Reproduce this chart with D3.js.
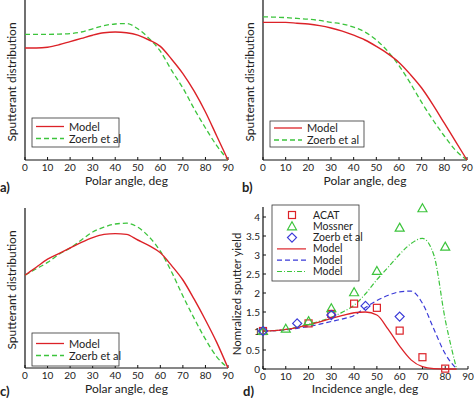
<!DOCTYPE html>
<html>
<head>
<meta charset="UTF-8">
<style>
  body { margin: 0; background: #fff; }
  text { font-family: Lato, "Open Sans", sans-serif; fill: #222; }
</style>
</head>
<body>
<script src="https://d3js.org/d3.v7.min.js"></script>
<script>

// polar angle grid for panels a-c
var polarAngles = [0,5,10,15,20,25,30,35,40,45,50,55,60,65,70,75,80,85,90];

var modelA = [0.70,0.70,0.705,0.72,0.74,0.76,0.78,0.795,0.80,0.795,0.78,0.75,0.71,0.63,0.54,0.43,0.30,0.15,0];
var zoerbA = [0.785,0.785,0.785,0.787,0.79,0.80,0.82,0.84,0.85,0.853,0.82,0.76,0.68,0.56,0.45,0.32,0.20,0.09,0];

var modelB = [0.86,0.86,0.86,0.855,0.85,0.84,0.825,0.805,0.78,0.75,0.71,0.665,0.61,0.535,0.45,0.345,0.23,0.115,0];
var zoerbB = [0.895,0.893,0.89,0.885,0.88,0.872,0.86,0.85,0.83,0.80,0.75,0.68,0.59,0.48,0.36,0.25,0.15,0.06,0];

var modelC = [0.58,0.63,0.68,0.715,0.75,0.785,0.815,0.835,0.84,0.835,0.80,0.765,0.72,0.64,0.55,0.43,0.30,0.16,0];
var zoerbC = [0.58,0.62,0.66,0.71,0.75,0.80,0.85,0.88,0.90,0.905,0.88,0.82,0.73,0.60,0.45,0.31,0.18,0.07,0];

// panel d: incidence angle
var incAngles = [0,5,10,15,20,25,30,35,40,45,50,55,60,65,70,75,80,85];
var modelRed   = [1,1.01,1.04,1.09,1.16,1.24,1.33,1.41,1.48,1.50,1.42,1.04,0.60,0.24,0.06,0.01,0,0];
var modelBlue  = [1,1.01,1.03,1.07,1.12,1.18,1.25,1.32,1.41,1.62,1.80,1.94,2.03,2.05,1.73,1.05,0.40,0];
var modelGreen = [1,1.01,1.04,1.10,1.18,1.26,1.36,1.50,1.68,1.98,2.35,2.68,3.02,3.30,3.44,3.00,1.30,0];

var acatX = [0,20,30,40,50,60,70,80];
var acatY = [1,1.2,1.45,1.72,1.61,1.01,0.31,0.01];
var mossX = [0,10,20,30,40,50,60,70,80];
var mossY = [1,1.06,1.26,1.6,2.02,2.58,3.72,4.23,3.22];
var zoerbX = [0,15,30,45,60];
var zoerbY = [1,1.2,1.42,1.66,1.38];

var xTicks = [0,10,20,30,40,50,60,70,80,90];
var yTicksD = [0,0.5,1,1.5,2,2.5,3,3.5,4];
var yTickLabelsD = ["0","0.5","1","1.5","2","2.5","3","3.5","4"];

var RED = "#dc2228", GREEN = "#3cc43c", BLUE = "#3a3ad8";

var svg = d3.select("body").append("svg")
    .attr("width", 474).attr("height", 398);

function xAxis(g, x, y0) {
    g.append("line").attr("x1", x.range()[0]).attr("x2", x.range()[1])
        .attr("y1", y0).attr("y2", y0).attr("stroke", "#111").attr("stroke-width", 1.2);
    xTicks.forEach(function(t) {
        g.append("line").attr("x1", x(t)).attr("x2", x(t))
            .attr("y1", y0).attr("y2", y0 - 3).attr("stroke", "#111");
        g.append("text").attr("x", x(t)).attr("y", y0 + 11)
            .attr("text-anchor", "middle").style("font-size", "10px").text(t);
    });
}

function polarPanel(p) {
    var g = svg.append("g");
    var x = d3.scaleLinear().domain([0, 90]).range([p.x0, p.x1]);
    var y = d3.scaleLinear().domain([0, 1]).range([p.yb, p.yb - 160]);

    g.append("line").attr("x1", p.x0).attr("x2", p.x0)
        .attr("y1", p.yb).attr("y2", p.yt).attr("stroke", "#111").attr("stroke-width", 1.2);
    xAxis(g, x, p.yb);

    var line = d3.line().curve(d3.curveMonotoneX)
        .x(function(d, i) { return x(polarAngles[i]); })
        .y(function(d) { return y(d); });

    g.append("path").attr("d", line(p.zoerb)).attr("fill", "none")
        .attr("stroke", GREEN).attr("stroke-width", 1.3).attr("stroke-dasharray", "5,3");
    g.append("path").attr("d", line(p.model)).attr("fill", "none")
        .attr("stroke", RED).attr("stroke-width", 1.4);

    // legend
    var L = p.legend;
    g.append("rect").attr("x", L[0]).attr("y", L[1]).attr("width", L[2]).attr("height", L[3])
        .attr("fill", "#fff").attr("stroke", "#333").attr("stroke-width", 0.8);
    var rows = [["Model", RED, null], ["Zoerb et al", GREEN, "5,3"]];
    rows.forEach(function(r, i) {
        var ry = L[1] + L[3] / 2 - 6 + i * 12;
        g.append("line").attr("x1", L[0] + 4).attr("x2", L[0] + 32)
            .attr("y1", ry).attr("y2", ry).attr("stroke", r[1]).attr("stroke-width", 1.3)
            .attr("stroke-dasharray", r[2]);
        g.append("text").attr("x", L[0] + 37).attr("y", ry + 4)
            .style("font-size", "11px").text(r[0]);
    });

    g.append("text").attr("x", (p.x0 + p.x1) / 2).attr("y", p.yb + 25)
        .attr("text-anchor", "middle").style("font-size", "12px").text("Polar angle, deg");
    g.append("text")
        .attr("transform", "translate(" + (p.x0 - 9) + "," + (p.yb - 78) + ") rotate(-90)")
        .attr("text-anchor", "middle").style("font-size", "12px").text("Sputterant distribution");
    g.append("text").attr("x", p.lab[0]).attr("y", p.lab[1])
        .style("font-size", "13px").style("font-weight", "bold").text(p.label);
}

polarPanel({ x0: 25, x1: 228, yb: 160, yt: 0, model: modelA, zoerb: zoerbA,
             legend: [32, 118, 87, 29], label: "a)", lab: [0, 192] });
polarPanel({ x0: 263, x1: 467, yb: 160, yt: 0, model: modelB, zoerb: zoerbB,
             legend: [270, 121, 94, 26], label: "b)", lab: [242, 192] });
polarPanel({ x0: 25, x1: 228, yb: 368, yt: 208, model: modelC, zoerb: zoerbC,
             legend: [32, 333, 87, 33], label: "c)", lab: [0, 396] });

// panel d
(function() {
    var g = svg.append("g");
    var x = d3.scaleLinear().domain([0, 90]).range([263, 468]);
    var y = d3.scaleLinear().domain([0, 4]).range([369, 217]);

    g.append("line").attr("x1", 263).attr("x2", 263).attr("y1", 369).attr("y2", 207)
        .attr("stroke", "#111").attr("stroke-width", 1.2);
    yTicksD.forEach(function(t, i) {
        g.append("line").attr("x1", 263).attr("x2", 266).attr("y1", y(t)).attr("y2", y(t))
            .attr("stroke", "#111");
        g.append("text").attr("x", 260).attr("y", y(t) + 3.5).attr("text-anchor", "end")
            .style("font-size", "10px").text(yTickLabelsD[i]);
    });
    xAxis(g, x, 369);

    var line = d3.line().curve(d3.curveMonotoneX)
        .x(function(d, i) { return x(incAngles[i]); })
        .y(function(d) { return y(d); });

    g.append("path").attr("d", line(modelGreen)).attr("fill", "none")
        .attr("stroke", GREEN).attr("stroke-width", 1.2).attr("stroke-dasharray", "5,2,1,2");
    g.append("path").attr("d", line(modelBlue)).attr("fill", "none")
        .attr("stroke", BLUE).attr("stroke-width", 1.2).attr("stroke-dasharray", "5,3");
    g.append("path").attr("d", line(modelRed)).attr("fill", "none")
        .attr("stroke", RED).attr("stroke-width", 1.3);

    function square(px, py) {
        g.append("rect").attr("x", px - 3.5).attr("y", py - 3.5).attr("width", 7).attr("height", 7)
            .attr("fill", "none").attr("stroke", RED).attr("stroke-width", 1.2);
    }
    function triangle(px, py) {
        g.append("path").attr("d", "M" + px + "," + (py - 4.5) + "L" + (px + 4.5) + "," + (py + 3.5) +
            "L" + (px - 4.5) + "," + (py + 3.5) + "Z")
            .attr("fill", "none").attr("stroke", GREEN).attr("stroke-width", 1.2);
    }
    function diamond(px, py) {
        g.append("path").attr("d", "M" + px + "," + (py - 4.5) + "L" + (px + 4.5) + "," + py +
            "L" + px + "," + (py + 4.5) + "L" + (px - 4.5) + "," + py + "Z")
            .attr("fill", "none").attr("stroke", BLUE).attr("stroke-width", 1.2);
    }

    acatX.forEach(function(v, i) { square(x(v), y(acatY[i])); });
    mossX.forEach(function(v, i) { triangle(x(v), y(mossY[i])); });
    zoerbX.forEach(function(v, i) { diamond(x(v), y(zoerbY[i])); });

    // legend
    g.append("rect").attr("x", 272).attr("y", 205).attr("width", 87).attr("height", 76)
        .attr("fill", "#fff").attr("stroke", "#333").attr("stroke-width", 0.8);
    var names = ["ACAT", "Mossner", "Zoerb et al", "Model", "Model", "Model"];
    names.forEach(function(n, i) {
        var ry = 215 + i * 11.3;
        if (i === 0) square(292, ry);
        else if (i === 1) triangle(292, ry);
        else if (i === 2) diamond(292, ry);
        else {
            var c = [RED, BLUE, GREEN][i - 3];
            var da = [null, "5,3", "5,2,1,2"][i - 3];
            g.append("line").attr("x1", 277).attr("x2", 306).attr("y1", ry).attr("y2", ry)
                .attr("stroke", c).attr("stroke-width", 1.2).attr("stroke-dasharray", da);
        }
        g.append("text").attr("x", 313).attr("y", ry + 3.5).style("font-size", "10.5px").text(n);
    });

    g.append("text").attr("x", 365).attr("y", 393).attr("text-anchor", "middle")
        .style("font-size", "12px").text("Incidence angle, deg");
    g.append("text").attr("transform", "translate(241,294) rotate(-90)")
        .attr("text-anchor", "middle").style("font-size", "11.5px").text("Nomralized sputter yield");
    g.append("text").attr("x", 243).attr("y", 396)
        .style("font-size", "13px").style("font-weight", "bold").text("d)");
})();

</script>
</body>
</html>
